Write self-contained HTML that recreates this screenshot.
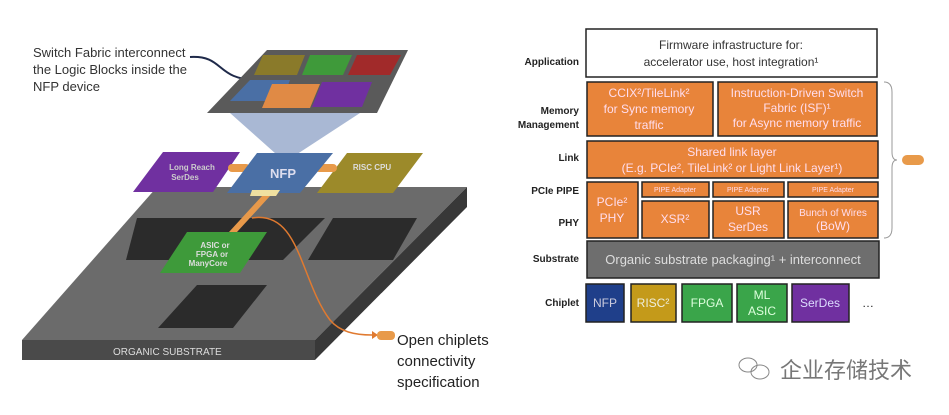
<!DOCTYPE html>
<html><head><meta charset="utf-8"><style>
body{margin:0;background:#fff;width:949px;height:410px;overflow:hidden;font-family:"Liberation Sans","Noto Sans CJK SC",sans-serif}
</style></head><body>
<svg width="949" height="410" viewBox="0 0 949 410" xmlns="http://www.w3.org/2000/svg" font-family="Liberation Sans, Noto Sans CJK SC, sans-serif">
<!-- LEFT -->
<text x="33" y="57" font-size="13" fill="#333">Switch Fabric interconnect</text>
<text x="33" y="74" font-size="13" fill="#333">the Logic Blocks inside the</text>
<text x="33" y="91" font-size="13" fill="#333">NFP device</text>
<path d="M190 57 C225 55 215 80 258 80" stroke="#1f2a4a" stroke-width="2" fill="none"/>
<!-- substrate slab -->
<polygon points="157,187 467,187 315,340 22,340" fill="#6b6b6b"/>
<polygon points="22,340 315,340 315,360 22,360" fill="#4a4a4a"/>
<polygon points="315,340 467,187 467,207 315,360" fill="#383838"/>
<text x="113" y="355" font-size="10" fill="#ddd">ORGANIC SUBSTRATE</text>
<polygon points="137,218 325,218 283,260 126,260" fill="#2b2b2b"/>
<polygon points="333,218 417,218 393,260 308,260" fill="#2b2b2b"/>
<polygon points="197,285 267,285 233,328 158,328" fill="#2b2b2b"/>
<!-- funnel -->
<polygon points="230,113 360,113 285,162" fill="#9aaccd" opacity="0.85"/>
<!-- top plate -->
<polygon points="267,50 408,50 377,113 207,113" fill="#5a5a5a"/>
<polygon points="263,55 305,55 297,75 254,75" fill="#8a7a2a"/>
<polygon points="310,55 352,55 343,75 302,75" fill="#3f9a3a"/>
<polygon points="357,55 401,55 390,75 348,75" fill="#a12a2a"/>
<polygon points="250,80 290,80 282,101 230,101" fill="#4a6fa5"/>
<polygon points="272,84 320,84 310,108 262,108" fill="#e08a45"/>
<polygon points="322,82 372,82 362,107 312,107" fill="#7030a0"/>
<!-- chiplets -->
<polygon points="163,152 240,152 213,192 133,192" fill="#7030a0"/>
<text x="192" y="170" font-size="8" fill="#ccc" text-anchor="middle" font-weight="bold">Long Reach</text>
<text x="185" y="180" font-size="8" fill="#ccc" text-anchor="middle" font-weight="bold">SerDes</text>
<polygon points="347,153 423,153 393,193 317,193" fill="#9c8a2a"/>
<text x="372" y="170" font-size="8" fill="#ddd" text-anchor="middle" font-weight="bold">RISC CPU</text>
<rect x="228" y="164" width="22" height="8" rx="4" fill="#e89a4a"/>
<rect x="315" y="164" width="22" height="8" rx="4" fill="#e89a4a"/>
<polygon points="257,153 333,153 300,193 227,193" fill="#4a6fa5"/>
<text x="283" y="178" font-size="13" fill="#dde" text-anchor="middle" font-weight="bold">NFP</text>
<polygon points="252,190 280,190 276,196 250,196" fill="#f0e0a0"/>
<polygon points="262,196 270,196 237,232 229,232" fill="#e8994a"/>
<polygon points="187,232 267,232 240,273 160,273" fill="#3e9a3a"/>
<text x="215" y="248" font-size="8" fill="#ddd" text-anchor="middle" font-weight="bold">ASIC or</text>
<text x="212" y="257" font-size="8" fill="#ddd" text-anchor="middle" font-weight="bold">FPGA or</text>
<text x="208" y="266" font-size="8" fill="#ddd" text-anchor="middle" font-weight="bold">ManyCore</text>
<path d="M252 218 C300 210 300 280 330 320 C340 332 355 335 372 335" stroke="#e07a30" stroke-width="1.5" fill="none"/>
<polygon points="372,331 378,335 372,339" fill="#e07a30"/>
<rect x="377" y="331" width="18" height="9" rx="4" fill="#e89a4a"/>
<text x="397" y="345" font-size="15" fill="#222">Open chiplets</text>
<text x="397" y="366" font-size="15" fill="#222">connectivity</text>
<text x="397" y="387" font-size="15" fill="#222">specification</text>
<!-- RIGHT -->
<g font-size="10" font-weight="bold" fill="#222" text-anchor="end">
<text x="579" y="65">Application</text>
<text x="579" y="114">Memory</text>
<text x="579" y="128">Management</text>
<text x="579" y="161">Link</text>
<text x="579" y="194">PCIe PIPE</text>
<text x="579" y="226">PHY</text>
<text x="579" y="262">Substrate</text>
<text x="579" y="306">Chiplet</text>
</g>
<g stroke="#222" stroke-width="1.5">
<rect x="586" y="29" width="291" height="48" fill="#fff"/>
<rect x="587" y="82" width="126" height="54" fill="#e8843a"/>
<rect x="718" y="82" width="159" height="54" fill="#e8843a"/>
<rect x="587" y="141" width="291" height="37" fill="#e8843a"/>
<rect x="587" y="182" width="51" height="56" fill="#e8843a"/>
<rect x="642" y="182" width="67" height="15" fill="#e8843a"/>
<rect x="713" y="182" width="71" height="15" fill="#e8843a"/>
<rect x="788" y="182" width="90" height="15" fill="#e8843a"/>
<rect x="642" y="201" width="67" height="37" fill="#e8843a"/>
<rect x="713" y="201" width="71" height="37" fill="#e8843a"/>
<rect x="788" y="201" width="90" height="37" fill="#e8843a"/>
<rect x="587" y="241" width="292" height="37" fill="#6e6e6e"/>
<rect x="586" y="284" width="38" height="38" fill="#1f3f8a"/>
<rect x="631" y="284" width="45" height="38" fill="#c49a1a"/>
<rect x="682" y="284" width="50" height="38" fill="#3aa54a"/>
<rect x="737" y="284" width="50" height="38" fill="#3aa54a"/>
<rect x="792" y="284" width="57" height="38" fill="#7030a0"/>
</g>
<g text-anchor="middle" font-size="12" fill="#fde">
<text x="731" y="49" fill="#333">Firmware infrastructure for:</text>
<text x="731" y="66" fill="#333">accelerator use, host integration¹</text>
<text x="649" y="97">CCIX²/TileLink²</text>
<text x="649" y="113">for Sync memory</text>
<text x="649" y="129">traffic</text>
<text x="797" y="97">Instruction-Driven Switch</text>
<text x="797" y="112">Fabric (ISF)¹</text>
<text x="797" y="127">for Async memory traffic</text>
<text x="732" y="156">Shared link layer</text>
<text x="732" y="172">(E.g. PCIe², TileLink² or Light Link Layer¹)</text>
<text x="612" y="206">PCIe²</text>
<text x="612" y="222">PHY</text>
<text x="675" y="223">XSR²</text>
<text x="748" y="215">USR</text>
<text x="748" y="231">SerDes</text>
<text x="833" y="216" font-size="10">Bunch of Wires</text>
<text x="833" y="230">(BoW)</text>
<text x="733" y="264" font-size="13" fill="#ddd">Organic substrate packaging¹ + interconnect</text>
<text x="605" y="307" fill="#ccd">NFP</text>
<text x="653" y="307" fill="#eed">RISC²</text>
<text x="707" y="307" fill="#dfd">FPGA</text>
<text x="762" y="299" fill="#dfd">ML</text>
<text x="762" y="315" fill="#dfd">ASIC</text>
<text x="820" y="307" fill="#ddf">SerDes</text>
</g>
<g text-anchor="middle" font-size="7" fill="#fde">
<text x="675" y="192">PIPE Adapter</text>
<text x="748" y="192">PIPE Adapter</text>
<text x="833" y="192">PIPE Adapter</text>
</g>
<text x="862" y="307" font-size="12" fill="#222">…</text>
<path d="M884 82 Q892 82 892 92 L892 152 Q892 160 897 160 Q892 160 892 168 L892 228 Q892 238 884 238" stroke="#999" fill="none" stroke-width="1"/>
<rect x="902" y="155" width="22" height="10" rx="5" fill="#e89a4a"/>
<!-- watermark -->
<g stroke="#888" fill="none" stroke-width="1">
<ellipse cx="748" cy="365" rx="9" ry="7"/><ellipse cx="760" cy="372" rx="9" ry="7"/>
</g>
<text x="780" y="378" font-size="22" fill="#777">企业存储技术</text>
</svg>
</body></html>
